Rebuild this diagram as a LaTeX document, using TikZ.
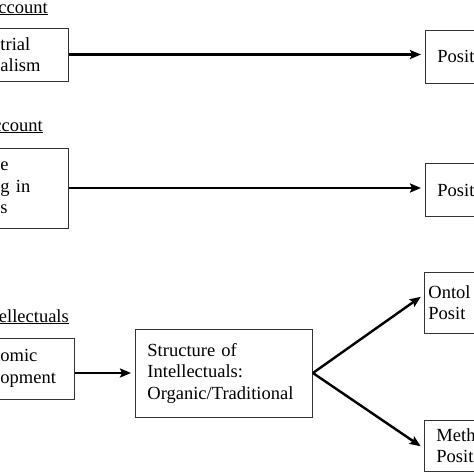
\documentclass[tikz,border=0pt]{standalone}
\usepackage{fontspec}
\setmainfont{Liberation Serif}
\usetikzlibrary{arrows.meta, calc, positioning}

\begin{document}
\begin{tikzpicture}[
    x=1pt, y=-1pt,
    font=\fontsize{18.5}{21.5}\selectfont,
    >={Stealth[length=11pt, width=9pt, inset=2pt]},
    box/.style={draw=black!80, line width=0.9pt, rectangle, align=left, anchor=west},
    lbox/.style={box, inner xsep=24pt},
    rbox/.style={box, inner xsep=12pt, text width=70pt},
    heading/.style={inner sep=0pt, anchor=base east},
    signal/.style={->, line width=2.4pt, shorten >=4pt}
]
    \useasboundingbox (0,0) rectangle (474,474);
    \clip (0,0) rectangle (474,474);

    % Headings
    \node [heading] (headA) at (48,13) {\underline{ccount}};
    \node [heading] (headB) at (43,131) {\underline{ccount}};
    \node [heading] (headC) at (69,322) {\underline{ellectuals}};

    % Components
    \node [lbox, text width=44pt, minimum height=53pt] (Indust) at (-24,54.5) {trial\\alism};
    \node [lbox, text width=44pt, minimum height=80pt] (Ruling) at (-24,188) {e\\g in\\s};
    \node [lbox, text width=50pt, minimum height=61pt] (Econ) at (-24,368.5) {omic\\opment};
    \node [box, inner xsep=12pt, text width=153pt, minimum height=88pt] (Struct) at (135,373)
        {Structure of\\Intellectuals:\\Organic/Traditional};

    \node [rbox, minimum height=53pt] (PosA) at (425,56.5) {Posit};
    \node [rbox, minimum height=53pt] (PosB) at (425,190) {Posit};
    \node [rbox, inner xsep=4pt, minimum height=61pt] (Onto) at (424,302.5) {Ontol\\Posit};
    \node [rbox, minimum height=51pt] (Meth) at (424,445.5) {Meth\\Posit};

    % Arrows
    \draw [signal] (Indust.east) -- (Indust.east -| PosA.west);
    \draw [signal] (Ruling.east) -- (Ruling.east -| PosB.west);
    \draw [signal] (Econ.east |- Struct.west) -- (Struct.west);

    \coordinate (onto_in) at ($(Onto.west) + (0,-8)$);
    \coordinate (meth_in) at ($(Meth.west) + (0,3)$);
    \draw [signal] (Struct.east) -- (onto_in);
    \draw [signal] (Struct.east) -- (meth_in);
\end{tikzpicture}
\end{document}
